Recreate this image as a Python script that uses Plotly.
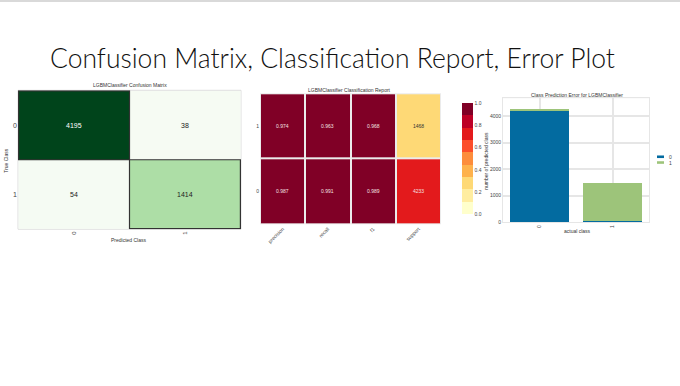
import plotly.graph_objects as go

# ---------------- data ----------------
cm_classes = ["0", "1"]
cm_row0 = [4195, 38]
cm_row1 = [54, 1414]

cr_metrics = ["precision", "recall", "f1", "support"]
cr_classes = ["0", "1"]
cr_precision = [0.987, 0.974]
cr_recall = [0.991, 0.963]
cr_f1 = [0.989, 0.968]
cr_support = [4233, 1468]

cpe_actual = ["0", "1"]
cpe_pred0 = [4195, 54]
cpe_pred1 = [38, 1414]
cpe_classes = ["0", "1"]
cpe_colors = ["#036ba0", "#9dc47a"]

cbar_ticks = [0.0, 0.2, 0.4, 0.6, 0.8, 1.0]

W, H = 680, 386

def px_x(v):
    return v / W

def px_y(v):
    return 1 - v / H

greens = ["#f7fcf5", "#e5f5e0", "#c7e9c0", "#a1d99b", "#74c476",
          "#41ab5d", "#238b45", "#006d2c", "#00441b"]
greens_scale = [[i / (len(greens) - 1), c] for i, c in enumerate(greens)]

ylorrd = ["#ffffcc", "#ffeda0", "#fed976", "#feb24c", "#fd8d3c",
          "#fc4e2a", "#e31a1c", "#bd0026", "#800026"]
n = len(ylorrd)
ylorrd_steps = []
for i, c in enumerate(ylorrd):
    ylorrd_steps.append([i / n, c])
    ylorrd_steps.append([(i + 1) / n, c])

SMALL = "Liberation Sans, Arial, sans-serif"
fig = go.Figure()

# ---------- Confusion matrix ----------
cm_z = [cm_row0, cm_row1]
cm_max = max(max(cm_row0), max(cm_row1))
fig.add_trace(go.Heatmap(
    x=cm_classes, y=cm_classes, z=cm_z, colorscale=greens_scale,
    zmin=0, zmax=cm_max, showscale=False, xaxis="x", yaxis="y",
    hoverinfo="skip"))
for r, row in enumerate(cm_z):
    for c, v in enumerate(row):
        fig.add_annotation(x=cm_classes[c], y=cm_classes[r], xref="x", yref="y",
                           text=str(v), showarrow=False,
                           font=dict(size=7, family=SMALL,
                                     color="white" if v > cm_max * 0.6 else "#222"))
for i in range(len(cm_classes)):
    fig.add_shape(type="rect", xref="x", yref="y", x0=i - 0.5, x1=i + 0.5,
                  y0=i - 0.5, y1=i + 0.5, line=dict(color="#333333", width=1.2))

# ---------- Classification report ----------
total = sum(cr_support)
cr_z, cr_t = [], []
for k in range(len(cr_classes)):
    cr_z.append([cr_precision[k], cr_recall[k], cr_f1[k], cr_support[k] / total])
    cr_t.append([f"{cr_precision[k]:.3f}", f"{cr_recall[k]:.3f}", f"{cr_f1[k]:.3f}",
                 str(cr_support[k])])
fig.add_trace(go.Heatmap(
    x=cr_metrics, y=cr_classes, z=cr_z, colorscale=ylorrd_steps, zmin=0, zmax=1,
    xgap=2, ygap=2, xaxis="x2", yaxis="y2", hoverinfo="skip",
    colorbar=dict(x=px_x(451.5), xanchor="left", y=px_y(160), yanchor="middle",
                  len=132 / H, lenmode="fraction", thickness=11,
                  outlinewidth=0, tickvals=cbar_ticks,
                  ticktext=[f"{t:.1f}" for t in cbar_ticks], ticklen=0,
                  tickfont=dict(size=5, family=SMALL, color="#444"))))
for r in range(len(cr_classes)):
    for c in range(len(cr_metrics)):
        v = cr_z[r][c]
        fig.add_annotation(x=cr_metrics[c], y=cr_classes[r], xref="x2", yref="y2",
                           text=cr_t[r][c], showarrow=False,
                           font=dict(size=5, family=SMALL,
                                     color="#f3e0e0" if v > 0.5 else "#333"))

# ---------- Class prediction error ----------
fig.add_trace(go.Bar(x=cpe_actual, y=cpe_pred0, name=cpe_classes[0],
                     marker_color=cpe_colors[0], marker_line_width=0,
                     xaxis="x3", yaxis="y3", showlegend=False))
fig.add_trace(go.Bar(x=cpe_actual, y=cpe_pred1, name=cpe_classes[1],
                     marker_color=cpe_colors[1], marker_line_width=0,
                     xaxis="x3", yaxis="y3", showlegend=False))

# small legend (matplotlib style)
for i, (nm, col) in enumerate(zip(cpe_classes, cpe_colors)):
    ly = 158 + i * 5.8
    fig.add_shape(type="rect", xref="paper", yref="paper",
                  x0=px_x(657), x1=px_x(664), y0=px_y(ly + 1.3), y1=px_y(ly - 1.3),
                  fillcolor=col, line_width=0)
    fig.add_annotation(x=px_x(667), y=px_y(ly), xref="paper", yref="paper", text=nm,
                       showarrow=False, xanchor="left", yanchor="middle",
                       font=dict(size=5, family=SMALL, color="#444"))

tick_font = dict(size=5, family=SMALL, color="#444")
fig.update_layout(
    width=W, height=H, margin=dict(l=0, r=0, t=0, b=0),
    paper_bgcolor="white", plot_bgcolor="#ebebeb",
    barmode="stack", bargap=0.2, showlegend=False,
    xaxis=dict(domain=[px_x(18), px_x(241)], anchor="y", showgrid=False,
               tickangle=-90, tickfont=dict(size=6, family=SMALL, color="#444"),
               ticks="", zeroline=False, showline=False),
    yaxis=dict(domain=[px_y(231), px_y(91)], anchor="x", autorange="reversed",
               showgrid=False, tickfont=dict(size=7, family=SMALL, color="#444"),
               ticks="", zeroline=False, showline=False),
    xaxis2=dict(domain=[px_x(260), px_x(441)], anchor="y2", showgrid=False,
                tickangle=-45, tickfont=tick_font, ticks="", zeroline=False),
    yaxis2=dict(domain=[px_y(226), px_y(94)], anchor="x2", showgrid=False,
                tickfont=tick_font, ticks="", zeroline=False),
    xaxis3=dict(domain=[px_x(503), px_x(649)], anchor="y3", showgrid=True,
                gridcolor="#e6e6e6", gridwidth=1.5, tickangle=-90,
                tickfont=tick_font, ticks="", zeroline=False,
                showline=True, linecolor="#e6e6e6", mirror=True),
    yaxis3=dict(domain=[px_y(224), px_y(99)], anchor="x3", showgrid=True,
                gridcolor="#e6e6e6", gridwidth=1.5, range=[0, 4673],
                tickvals=[0, 1000, 2000, 3000, 4000], tickfont=tick_font,
                ticks="", zeroline=False, showline=True, linecolor="#e6e6e6",
                mirror=True),
)
fig.add_shape(type="rect", xref="x3 domain", yref="y3 domain", x0=0, x1=1, y0=0, y1=1,
              fillcolor="white", line_width=0, layer="below")
fig.add_shape(type="rect", xref="x domain", yref="y domain", x0=0, x1=1, y0=0, y1=1,
              fillcolor="white", line=dict(color="#dddddd", width=1), layer="below")

# top grey strip
fig.add_shape(type="rect", xref="paper", yref="paper", x0=0, x1=1, y0=px_y(2), y1=1,
              fillcolor="#d9d9d9", line_width=0)

# slide title
fig.add_annotation(x=px_x(332), y=px_y(58), xref="paper", yref="paper",
                   text="Confusion Matrix, Classification Report, Error Plot",
                   showarrow=False, xanchor="center", yanchor="middle",
                   font=dict(size=26.5, family="Lato, Open Sans, sans-serif",
                             color="#111", weight=300))

def label(x, y, text, size=5, angle=0):
    fig.add_annotation(x=px_x(x), y=px_y(y), xref="paper", yref="paper", text=text,
                       showarrow=False, textangle=angle, xanchor="center",
                       yanchor="middle", font=dict(size=size, family=SMALL, color="#333"))

label(129.5, 86, "LGBMClassifier Confusion Matrix")
label(6, 162, "True Class", angle=-90)
label(129, 242, "Predicted Class")
label(350, 91, "LGBMClassifier Classification Report")
label(577, 95.5, "Class Prediction Error for LGBMClassifier")
label(486, 162, "number of predicted class", angle=-90)
label(577, 233, "actual class")

fig.write_html("out.html", config={"displayModeBar": False},
               post_script="document.body.style.margin='0';document.body.style.padding='0';")
